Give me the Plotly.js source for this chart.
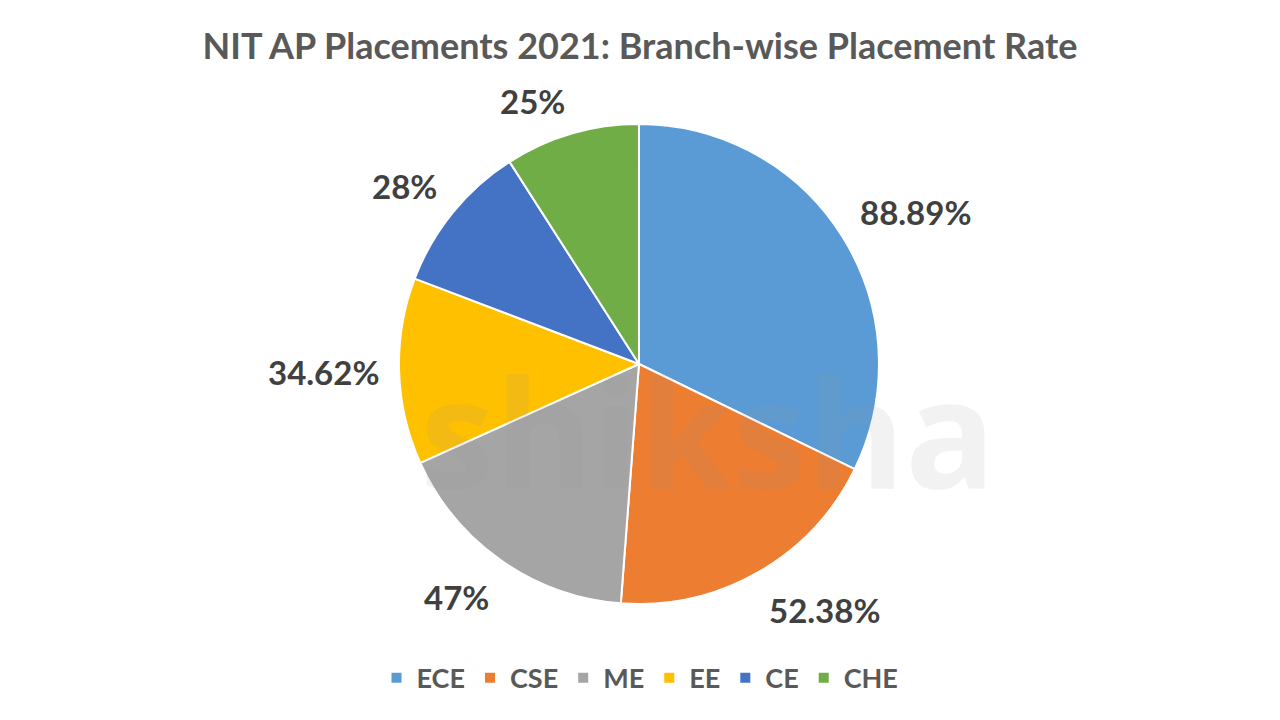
<!DOCTYPE html>
<html>
<head>
<meta charset="utf-8">
<script src="https://cdn.plot.ly/plotly-3.0.1.min.js"></script>
<style>html,body{margin:0;padding:0;background:#fff;}#chart{width:1280px;height:720px;}</style>
</head>
<body>
<div id="chart"></div>
<script>
const branches = ["ECE", "CSE", "ME", "EE", "CE", "CHE"];
const placementRate = [88.89, 52.38, 47, 34.62, 28, 25];
const rateLabels = ["88.89%", "52.38%", "47%", "34.62%", "28%", "25%"];
const sliceColors = ["#5B9BD5", "#ED7D31", "#A5A5A5", "#FFC000", "#4472C4", "#70AD47"];

const FONT = "Lato, 'Open Sans', sans-serif";
const W = 1280, H = 720;
const dom = {x: [0.3117, 0.6867], y: [0.1611, 0.8278]};

// outside label placement derived from the slice angles (clockwise from 12 o'clock)
const total = placementRate.reduce((a, b) => a + b, 0);
const cx = (dom.x[0] + dom.x[1]) / 2, cy = (dom.y[0] + dom.y[1]) / 2;
const rPx = (dom.y[1] - dom.y[0]) * H / 2;
const labelR = rPx + 18;
let cum = 0;
const labelAnns = placementRate.map((v, i) => {
  const mid = (cum + v / 2) / total * 2 * Math.PI;
  cum += v;
  const s = Math.sin(mid), c = Math.cos(mid);
  const ya = c > 0.3 ? "bottom" : (c < -0.3 ? "top" : "middle");
  return {
    text: rateLabels[i], xref: "paper", yref: "paper",
    x: cx + labelR * s / W, y: cy + labelR * c / H,
    xanchor: s >= 0 ? "left" : "right",
    yanchor: ya,
    yshift: ya === "bottom" ? -7 : 0,
    showarrow: false,
    font: {family: FONT, size: 33, color: "#404040", weight: "bold"}
  };
});

const trace = {
  type: "pie",
  labels: branches,
  values: placementRate,
  text: rateLabels,
  textinfo: "none",
  sort: false,
  direction: "clockwise",
  rotation: 0,
  marker: {colors: sliceColors, line: {color: "#ffffff", width: 2}},
  automargin: false,
  domain: dom,
  hoverinfo: "label+text"
};

const layout = {
  width: W, height: H,
  margin: {l: 0, r: 0, t: 0, b: 0},
  paper_bgcolor: "#ffffff",
  title: {
    text: "NIT AP Placements 2021: Branch-wise Placement Rate",
    font: {family: FONT, size: 36, color: "#595959", weight: "bold"},
    x: 0.5, xanchor: "center", y: 0.935, yanchor: "middle"
  },
  showlegend: true,
  legend: {
    orientation: "h", x: 0.5, xanchor: "center", y: 0.058, yanchor: "middle",
    font: {family: FONT, size: 27, color: "#595959", weight: "bold"},
    itemwidth: 30, traceorder: "normal"
  },
  annotations: [{
    text: "shiksha", xref: "paper", yref: "paper", x: 0.553, y: 0.401,
    showarrow: false,
    font: {family: "'Open Sans', sans-serif", size: 150, color: "rgba(150,150,150,0.12)", weight: "bold"}
  }].concat(labelAnns)
};

Plotly.newPlot("chart", [trace], layout, {displayModeBar: false, staticPlot: true});
</script>
</body>
</html>
